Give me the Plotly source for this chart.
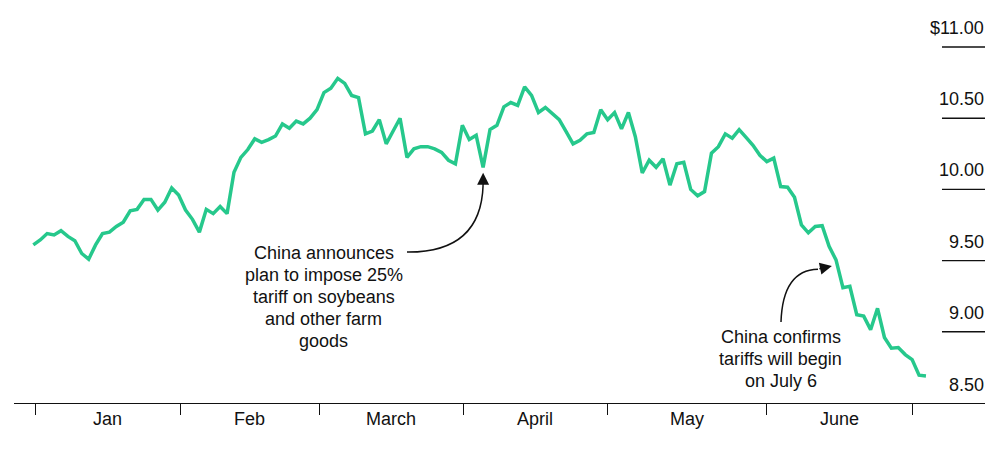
import plotly.graph_objects as go

# ---------------- data ----------------
prices = [
    9.61, 9.645, 9.69, 9.68, 9.71, 9.67, 9.64, 9.55, 9.51, 9.61,
    9.69, 9.70, 9.74, 9.77, 9.85, 9.86, 9.93, 9.93, 9.855, 9.91,
    10.01, 9.96, 9.855, 9.79, 9.70, 9.86, 9.83, 9.88, 9.83, 10.12,
    10.225, 10.28, 10.355, 10.33, 10.35, 10.375, 10.46, 10.43, 10.48, 10.46,
    10.50, 10.56, 10.68, 10.71,
    10.78, 10.745, 10.66, 10.645, 10.39, 10.41, 10.49, 10.32, 10.41, 10.50,
    10.225, 10.285, 10.30, 10.30, 10.285, 10.26, 10.205, 10.18, 10.45, 10.35,
    10.38, 10.155, 10.42, 10.45, 10.58, 10.61, 10.59, 10.72, 10.66, 10.54,
    10.575, 10.535, 10.49, 10.405, 10.32, 10.345, 10.39, 10.40, 10.56, 10.49,
    10.54, 10.425, 10.54,
    10.37, 10.115, 10.205, 10.155, 10.215, 10.03, 10.18, 10.19, 10.00, 9.955,
    9.985, 10.255, 10.30, 10.39, 10.36, 10.42, 10.365, 10.31, 10.24, 10.195,
    10.22, 10.02, 10.015, 9.945, 9.75, 9.695, 9.74, 9.745, 9.60, 9.505,
    9.31, 9.32, 9.12, 9.11, 9.015, 9.165, 8.96, 8.885, 8.89, 8.84,
    8.805, 8.695, 8.69,
]
day_index = list(range(len(prices)))

month_labels = ["Jan", "Feb", "March", "April", "May", "June"]
month_boundaries = [0.25, 21.3, 41.3, 62.1, 83.0, 106.0, 127.1]

y_tick_values = [9.0, 9.5, 10.0, 10.5, 11.0]
y_tick_labels = ["9.00", "9.50", "10.00", "10.50", "$11.00"]
y_base_value = 8.5
y_base_label = "8.50"

note1_lines = ["China announces", "plan to impose 25%", "tariff on soybeans",
               "and other farm", "goods"]
note1_index = 65          # the dip the arrow points at
note2_lines = ["China confirms", "tariffs will begin", "on July 6"]
note2_index = 116

# ---------------- style ----------------
LINE_COLOR = "#26c88c"
FONT = "Liberation Sans, Arial, sans-serif"
FS = 18
INK = "#111111"
LINE_GAP = 22  # px between text lines

fig = go.Figure()
fig.add_trace(go.Scatter(
    x=day_index, y=prices, mode="lines",
    line=dict(color=LINE_COLOR, width=3.5, shape="linear"),
    hoverinfo="skip", showlegend=False,
))

annotations = []
shapes = []

# month labels centred between boundary ticks
for i, lab in enumerate(month_labels):
    mid = (month_boundaries[i] + month_boundaries[i + 1]) / 2
    annotations.append(dict(
        x=mid, y=0, xref="x", yref="paper", text=lab, showarrow=False,
        xanchor="center", yanchor="middle", yshift=-16,
        font=dict(family=FONT, size=FS, color=INK),
    ))

# right-hand value labels with short rules
for v, lab in zip(y_tick_values, y_tick_labels):
    shapes.append(dict(
        type="line", xref="paper", yref="y", x0=0.9557, x1=1.0, y0=v, y1=v,
        line=dict(color=INK, width=1.4),
    ))
    annotations.append(dict(
        x=1.0, y=v, xref="paper", yref="y", text=lab, showarrow=False,
        xanchor="right", yanchor="middle", yshift=19, xshift=1,
        font=dict(family=FONT, size=FS, color=INK),
    ))
annotations.append(dict(
    x=1.0, y=y_base_value, xref="paper", yref="y", text=y_base_label,
    showarrow=False, xanchor="right", yanchor="middle", yshift=18, xshift=1,
    font=dict(family=FONT, size=FS, color=INK),
))


def text_block(lines, x, y_center):
    n = len(lines)
    for k, line in enumerate(lines):
        annotations.append(dict(
            x=x, y=y_center, xref="x", yref="y", text=line, showarrow=False,
            xanchor="center", yanchor="middle",
            yshift=((n - 1) / 2 - k) * LINE_GAP,
            font=dict(family=FONT, size=FS, color=INK),
        ))


# ---- note 1: curved arrow up to the dip ----
dx = note1_index
dv = prices[note1_index]
tip1_v = dv - 0.038
start1 = (dx - 11.0, dv - 0.595)
ctrl1 = (dx - 0.3, dv - 0.60)
end1 = (dx, dv - 0.125)
shapes.append(dict(
    type="path", xref="x", yref="y",
    path=f"M {start1[0]},{start1[1]} Q {ctrl1[0]},{ctrl1[1]} {end1[0]},{end1[1]}",
    line=dict(color=INK, width=1.5),
))
annotations.append(dict(
    x=dx, y=tip1_v, xref="x", yref="y", text="", showarrow=True,
    ax=0, ay=14, axref="pixel", ayref="pixel",
    arrowhead=2, arrowsize=1.6, arrowwidth=1.5, arrowcolor=INK,
))
text_block(note1_lines, 42.0, 9.245)

# ---- note 2: curved arrow to the June slide ----
px = note2_index
pv = prices[note2_index]
tip2 = (px - 0.6, pv - 0.043)
start2 = (px - 7.95, pv - 0.436)
ctrl2 = (px - 7.7, pv - 0.07)
end2 = (px - 2.6, pv - 0.065)
shapes.append(dict(
    type="path", xref="x", yref="y",
    path=f"M {start2[0]},{start2[1]} Q {ctrl2[0]},{ctrl2[1]} {end2[0]},{end2[1]}",
    line=dict(color=INK, width=1.5),
))
annotations.append(dict(
    x=tip2[0], y=tip2[1], xref="x", yref="y", text="", showarrow=True,
    ax=-14, ay=3, axref="pixel", ayref="pixel",
    arrowhead=2, arrowsize=1.6, arrowwidth=1.5, arrowcolor=INK,
))
text_block(note2_lines, 108.0, 8.812)

fig.update_layout(
    width=1000, height=449,
    margin=dict(l=14, r=15, t=10, b=46),
    paper_bgcolor="white", plot_bgcolor="white",
    showlegend=False,
    annotations=annotations, shapes=shapes,
    xaxis=dict(
        range=[-2.79, 137.53], showgrid=False, zeroline=False,
        showline=True, linecolor=INK, linewidth=1.4,
        tickmode="array", tickvals=month_boundaries,
        ticks="outside", ticklen=11, tickwidth=1.4, tickcolor=INK,
        showticklabels=False, fixedrange=True,
    ),
    yaxis=dict(
        range=[8.5, 11.26], showgrid=False, zeroline=False,
        showline=False, showticklabels=False, ticks="", fixedrange=True,
    ),
)

fig.write_html("out.html", config={"displayModeBar": False})
